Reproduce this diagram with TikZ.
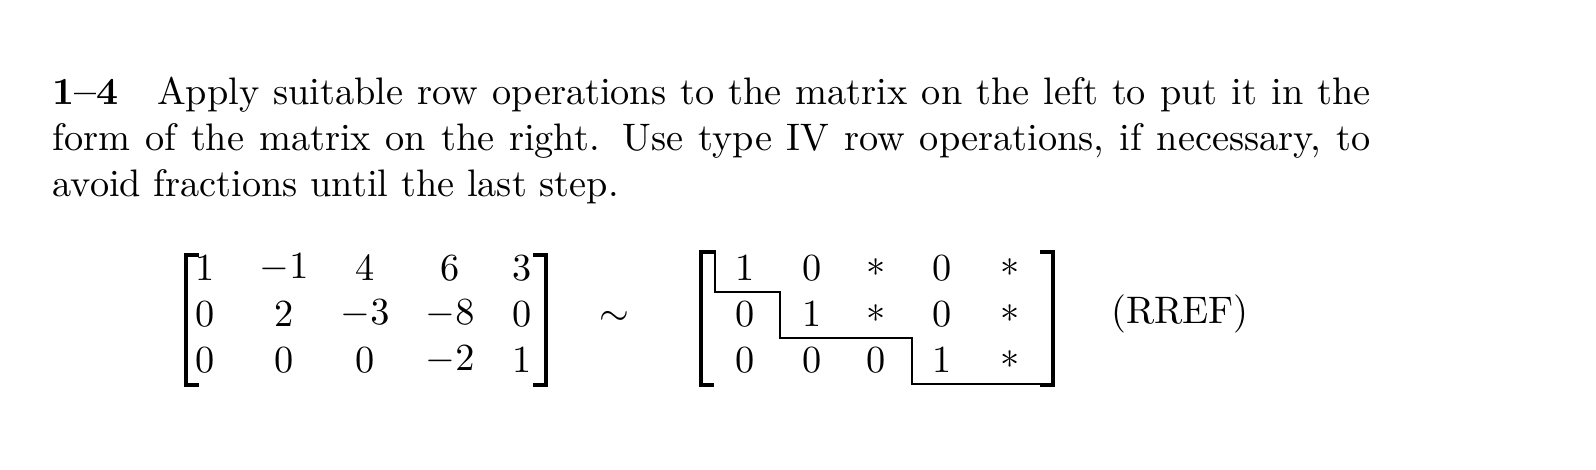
\documentclass[tikz,border=0pt]{standalone}
\begin{document}
\begin{tikzpicture}[x=0.261pt,y=-0.261pt,
  e/.style={inner sep=0pt,anchor=center},
  br/.style={line width=0.8pt},
  st/.style={line width=0.45pt}]
\useasboundingbox (0,0) rectangle (1596,470);
\node[anchor=north west,inner sep=0pt,text width=344pt,align=justify] (txt) at (52,76)
 {\textbf{1--4}\quad Apply suitable row operations to the matrix on the left to put it in the form of the matrix on the right. Use type IV row operations, if necessary, to avoid fractions until the last step.};
% left matrix
\foreach \x/\a/\b/\c [count=\i] in {205/1/0/0, 284/$-1$/2/0, 365/4/$-3$/0, 450/6/$-8$/$-2$, 522/3/0/1}{
  \node[e] (l1\i) at (\x,268) {\a};
  \node[e] (l2\i) at (\x,314) {\b};
  \node[e] (l3\i) at (\x,360) {\c};
}
\draw[br] (199,255) -- (186,255) -- (186,385) -- (199,385);
\draw[br] (533,255) -- (546,255) -- (546,385) -- (533,385);
\node[e] (sim) at (614,318) {$\sim$};
% right matrix
\foreach \x/\a/\b/\c [count=\i] in {745/1/0/0, 812/0/1/0, 876/$*$/$*$/0, 942/0/0/1, 1010/$*$/$*$/$*$}{
  \node[e] (r1\i) at (\x,268) {\a};
  \node[e] (r2\i) at (\x,314) {\b};
  \node[e] (r3\i) at (\x,360) {\c};
}
\draw[br] (714,252) -- (701,252) -- (701,385) -- (714,385);
\draw[br] (1040,252) -- (1053,252) -- (1053,385) -- (1040,385);
\draw[st] (715,250) -- (715,292) -- (780,292) -- (780,338) -- (912,338) -- (912,384) -- (1042,384);
\node[e] (rref) at (1180,314) {(RREF)};
\end{tikzpicture}
\end{document}
